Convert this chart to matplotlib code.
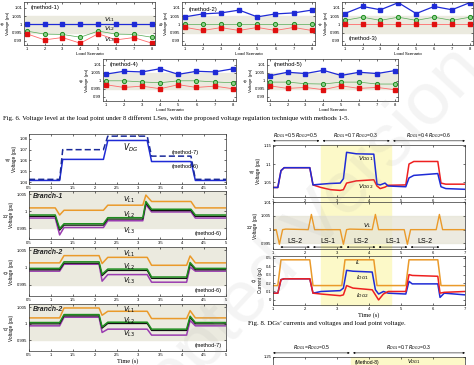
import matplotlib
matplotlib.use("Agg")
import matplotlib.pyplot as plt
from matplotlib.patches import Rectangle

plt.rcParams["font.family"] = ["Liberation Sans", "DejaVu Sans"]
plt.rcParams["mathtext.fontset"] = "dejavusans"

W, H = 474, 365

# ---------------------------------------------------------------------
# Fig. 6 : voltage at load point for 8 load scenarios (methods 1-5)
# ---------------------------------------------------------------------
scenarios = [1, 2, 3, 4, 5, 6, 7, 8]

m1_vl1 = [1.0, 1.0, 1.0, 1.0, 1.0, 1.0, 1.0, 1.0]
m1_vl2 = [0.9959, 0.9941, 0.9939, 0.9922, 0.9959, 0.9941, 0.9939, 0.9922]
m1_vl3 = [0.9943, 0.9906, 0.9920, 0.9886, 0.9943, 0.9906, 0.9920, 0.9886]

m2_vl1 = [1.0045, 1.0063, 1.0069, 1.0086, 1.0045, 1.0063, 1.0069, 1.0086]
m2_vl2 = [1.0, 1.0, 1.0, 1.0, 1.0, 1.0, 1.0, 1.0]
m2_vl3 = [0.9982, 0.9963, 0.9980, 0.9963, 0.9981, 0.9963, 0.9981, 0.9963]

m3_vl1 = [1.0065, 1.0108, 1.0088, 1.0131, 1.0065, 1.0108, 1.0088, 1.0131]
m3_vl2 = [1.0024, 1.0043, 1.0024, 1.0043, 1.0024, 1.0043, 1.0024, 1.0043]
m3_vl3 = [1.0, 1.0, 1.0, 1.0, 1.0, 1.0, 1.0, 1.0]

m4_vl1 = [1.0041, 1.0059, 1.0055, 1.0075, 1.0040, 1.0059, 1.0055, 1.0074]
m4_vl2 = [1.0, 1.0, 0.9993, 0.9988, 1.0, 1.0, 0.9993, 0.9988]
m4_vl3 = [0.9976, 0.9959, 0.9967, 0.9951, 0.9976, 0.9959, 0.9967, 0.9951]

m5_vl1 = [1.0031, 1.0053, 1.0045, 1.0065, 1.0033, 1.0053, 1.0045, 1.0063]
m5_vl2 = [0.9992, 0.9992, 0.9982, 0.9980, 0.9992, 0.9992, 0.9980, 0.9980]
m5_vl3 = [0.9969, 0.9953, 0.9959, 0.9945, 0.9969, 0.9953, 0.9959, 0.9945]

f6_yticks = [0.99, 0.995, 1.0, 1.005, 1.01]
f6_ylabels = ["0.99", "0.995", "1", "1.005", "1.01"]

# ---------------------------------------------------------------------
# Fig. 7 : DG voltage and branch voltages (methods 6, 7)
# ---------------------------------------------------------------------
t_dg7 = [0.5, 1.2, 1.27, 2.2, 2.3, 3.2, 3.3, 4.2, 4.3, 5.0]
vdg_m6 = [1.0415, 1.0415, 1.061, 1.061, 1.0785, 1.0785, 1.059, 1.059, 1.0415, 1.0415]
vdg_m7 = [1.0425, 1.0425, 1.070, 1.070, 1.0825, 1.0825, 1.064, 1.064, 1.0425, 1.0425]

t_br1 = [0.5, 1.1, 1.2, 1.3, 2.2, 2.3, 3.1, 3.17, 3.3, 4.2, 4.3, 5.0]
b1_vl1 = [1.0010, 1.0010, 0.9989, 1.0003, 1.0003, 1.0018, 1.0018, 1.0048, 1.0029, 1.0029, 1.0010, 1.0010]
b1_vl2 = [0.9989, 0.9989, 0.9949, 0.9963, 0.9963, 0.9981, 0.9981, 1.0029, 1.0006, 1.0006, 0.9989, 0.9989]
b1_vl2b = [0.9985, 0.9985, 0.9944, 0.9959, 0.9959, 0.9977, 0.9977, 1.0024, 1.0002, 1.0002, 0.9985, 0.9985]
b1_vl3 = [0.9980, 0.9980, 0.9930, 0.9952, 0.9952, 0.9972, 0.9972, 1.0020, 0.9998, 0.9998, 0.9980, 0.9980]

t_br2 = [0.5, 1.2, 1.3, 2.1, 2.17, 2.3, 3.2, 3.3, 4.1, 4.18, 4.3, 5.0]
c_vl1 = [1.0014, 1.0014, 1.0035, 1.0035, 1.0012, 1.0030, 1.0030, 1.0007, 1.0007, 1.0034, 1.0014, 1.0014]
c_vl2 = [0.9998, 0.9998, 1.0017, 1.0017, 0.9981, 0.9996, 0.9996, 0.9973, 0.9973, 1.0015, 0.9998, 0.9998]
c_vl2b = [0.9994, 0.9994, 1.0013, 1.0013, 0.9977, 0.9992, 0.9992, 0.9969, 0.9969, 1.0011, 0.9994, 0.9994]
c_vl3 = [0.9990, 0.9990, 1.0010, 1.0010, 0.9961, 0.9980, 0.9980, 0.9958, 0.9958, 1.0002, 0.9990, 0.9990]

d_vl1 = [1.0018, 1.0018, 1.0048, 1.0048, 1.0026, 1.0038, 1.0038, 1.0016, 1.0016, 1.0040, 1.0018, 1.0018]
d_vl2 = [1.0004, 1.0004, 1.0028, 1.0028, 0.9991, 1.0005, 1.0005, 0.9984, 0.9984, 1.0023, 1.0004, 1.0004]
d_vl2b = [1.0000, 1.0000, 1.0024, 1.0024, 0.9987, 1.0001, 1.0001, 0.9980, 0.9980, 1.0019, 1.0000, 1.0000]
d_vl3 = [0.9994, 0.9994, 1.0020, 1.0020, 0.9974, 0.9984, 0.9984, 0.9966, 0.9966, 1.0010, 0.9994, 0.9994]

f7_xticks = [0.5, 1, 1.5, 2, 2.5, 3, 3.5, 4, 4.5, 5]
f7_xlabels = ["0.5", "1", "1.5", "2", "2.5", "3", "3.5", "4", "4.5", "5"]

# ---------------------------------------------------------------------
# Fig. 8 : DG currents / voltages and load point voltage
# ---------------------------------------------------------------------
t_dg8 = [1.0, 1.15, 1.25, 1.35, 2.15, 2.25, 2.5, 2.8, 3.1, 3.2, 3.3, 3.6, 4.15,
         4.25, 4.35, 4.5, 4.6, 5.15, 5.25, 5.4, 6.15, 6.25, 6.4, 7.0]
vdg2 = [1.036, 1.036, 1.082, 1.090, 1.090, 1.043, 1.036, 1.030, 1.028, 1.030, 1.048, 1.054, 1.057,
        1.040, 1.033, 1.037, 1.042, 1.043, 1.100, 1.107, 1.107, 1.048, 1.045, 1.045]
vdg1 = [1.036, 1.036, 1.082, 1.090, 1.090, 1.043, 1.045, 1.047, 1.048, 1.060, 1.132, 1.128, 1.127,
        1.045, 1.043, 1.048, 1.040, 1.038, 1.062, 1.069, 1.074, 1.038, 1.033, 1.031]

t_vl = [1.0, 1.1, 1.2, 1.3, 1.4, 2.1, 2.2, 2.3, 2.4, 3.1, 3.2, 3.3, 3.4,
        4.1, 4.2, 4.3, 4.4, 5.1, 5.2, 5.3, 5.4, 6.1, 6.2, 6.3, 6.4, 7.0]
v_l = [1.0, 1.0, 0.9947, 1.0, 1.0002, 1.0, 1.0055, 1.0, 1.0, 1.0, 0.9947, 1.0, 1.0002,
       1.0, 1.0055, 1.0, 1.0, 1.0, 0.9947, 1.0, 1.0, 1.0, 1.0055, 1.0, 1.0, 1.0]

t_il = [1.0, 1.15, 1.25, 2.15, 2.25, 3.15, 3.25, 4.15, 4.25, 5.15, 5.25, 6.15, 6.25, 7.0]
i_l = [0.17, 0.17, 0.475, 0.475, 0.17, 0.17, 0.475, 0.475, 0.17, 0.17, 0.475, 0.475, 0.17, 0.17]

t_idg = [1.0, 1.15, 1.25, 1.35, 2.15, 2.25, 2.5, 3.1, 3.2, 3.3, 3.5, 4.1, 4.2, 4.3,
         4.45, 4.6, 5.15, 5.25, 5.35, 6.15, 6.22, 6.35, 7.0]
i_dg1 = [0.08, 0.08, 0.24, 0.25, 0.25, 0.08, 0.10, 0.11, 0.14, 0.35, 0.34, 0.33, 0.12, 0.07,
         0.10, 0.08, 0.07, 0.22, 0.19, 0.19, 0.03, 0.08, 0.06]
i_dg2 = [0.08, 0.08, 0.24, 0.25, 0.25, 0.08, 0.07, 0.05, 0.06, 0.17, 0.14, 0.12, 0.06, 0.0,
         0.07, 0.10, 0.10, 0.30, 0.29, 0.28, 0.08, 0.09, 0.10]

ls_names = ["LS-2", "LS-1", "LS-2", "LS-1", "LS-2"]
ls_start = [1.23, 2.25, 3.3, 4.3, 5.3]
ls_end = [2.15, 3.18, 4.2, 5.2, 6.2]

f8_xticks = [1, 2, 3, 4, 5, 6, 7]

# colours
BLUE = "#1f2bd6"
RED = "#ee2020"
GREEN = "#1e8c1e"
ORANGE = "#ea9a2a"
PURPLE = "#9a3cb0"
BAND = "#ebeadf"
YELLOW = "#fcf9c8"

fig = plt.figure(figsize=(W / 100, H / 100), dpi=100)


def px_axes(x0, y0, x1, y1):
    return fig.add_axes([x0 / W, 1 - y1 / H, (x1 - x0) / W, (y1 - y0) / H])


def style(ax, fs=3.0):
    ax.tick_params(direction="in", length=1.5, width=0.4, labelsize=fs, pad=1.2,
                   top=True, right=True)
    for s in ax.spines.values():
        s.set_linewidth(0.5)
        s.set_color("#333333")


# ---------------- Fig 6 --------------------------------------------------
f6 = [
    ("a)", (24, 2, 155, 45), m1_vl1, m1_vl2, m1_vl3, "(method-1)", (0.05, 0.93)),
    ("b)", (182, 2, 315, 45), m2_vl1, m2_vl2, m2_vl3, "(method-2)", (0.05, 0.88)),
    ("c)", (342, 2, 473, 45), m3_vl1, m3_vl2, m3_vl3, "(method-3)", (0.05, 0.22)),
    ("d)", (103, 59, 236, 101), m4_vl1, m4_vl2, m4_vl3, "(method-4)", (0.05, 0.93)),
    ("e)", (267, 59, 398, 101), m5_vl1, m5_vl2, m5_vl3, "(method-5)", (0.05, 0.93)),
]
for lett, box, v1, v2, v3, meth, mpos in f6:
    ax = px_axes(*box)
    ax.axhspan(0.995, 1.005, color=BAND, zorder=0)
    ax.plot(scenarios, v2, "-", color="#55aa55", lw=0.5, marker="o", ms=3.0,
            mfc="#8fd18f", mec=GREEN, mew=0.7)
    ax.plot(scenarios, v3, "-", color="#ff6a6a", lw=0.6, marker="s", ms=2.3,
            mfc="#e01010", mec="#e01010")
    ax.plot(scenarios, v1, "-", color=BLUE, lw=0.9, marker="s", ms=2.3,
            mfc=BLUE, mec=BLUE)
    ax.set_xlim(0.85, 8.18)
    ax.set_ylim(0.9875, 1.0135)
    ax.set_xticks(scenarios)
    ax.set_yticks(f6_yticks)
    ax.set_yticklabels(f6_ylabels)
    ax.set_xlabel("Load Scenario", fontsize=3.2, labelpad=1)
    ax.set_ylabel(lett + "\nVoltage (pu)", fontsize=3.2, labelpad=1.5)
    ax.text(mpos[0], mpos[1], meth, transform=ax.transAxes, fontsize=4.2,
            va="top", ha="left")
    style(ax)
    if lett == "a)":
        ax.text(5.3, 1.0029, r"$V_{L1}$", fontsize=4.6, va="center")
        ax.text(5.3, 0.9976, r"$V_{L2}$", fontsize=4.6, va="center")
        ax.text(5.3, 0.9906, r"$V_{L3}$", fontsize=4.6, va="center")

fig.text(3 / W, 1 - 118 / H,
         "Fig. 6. Voltage level at the load point under 8 different LSes, with the "
         "proposed voltage regulation technique with methods 1-5.",
         family="Liberation Serif", fontsize=4.9, va="center", ha="left")

# ---------------- Fig 7 --------------------------------------------------
ax = px_axes(29, 134, 226, 184)
ax.plot(t_dg7, vdg_m6, "-", color=BLUE, lw=1.1)
ax.plot(t_dg7, vdg_m7, "--", color="#1a2a9a", lw=1.1, dashes=(4, 2))
ax.set_xlim(0.5, 5)
ax.set_ylim(1.0382, 1.0845)
ax.set_yticks([1.04, 1.05, 1.06, 1.07, 1.08])
ax.set_yticklabels(["1.04", "1.05", "1.06", "1.07", "1.08"])
ax.set_xticks(f7_xticks)
ax.set_xticklabels(f7_xlabels)
ax.set_ylabel("a)\nVoltage (pu)", fontsize=3.4, labelpad=2)
ax.text(2.65, 1.0715, r"$V_{DG}$", fontsize=5.5, va="center")
ax.text(3.75, 1.0675, "(method-7)", fontsize=4, va="center")
ax.text(3.75, 1.0545, "(method-6)", fontsize=4, va="center")
style(ax)

f7 = [
    ("b)", (29, 191, 226, 239), t_br1, b1_vl1, b1_vl2, b1_vl2b, b1_vl3, "Branch-1", "(method-6)",
     [(2.65, 1.0033), (2.65, 0.9990), (2.65, 0.9942)]),
    ("c)", (29, 247, 226, 296), t_br2, c_vl1, c_vl2, c_vl2b, c_vl3, "Branch-2", "(method-6)",
     [(2.65, 1.0040), (2.65, 1.0001), (2.65, 0.9962)]),
    ("d)", (29, 304, 226, 351), t_br2, d_vl1, d_vl2, d_vl2b, d_vl3, "Branch-2", "(method-7)",
     [(2.65, 1.0042), (2.65, 1.0009), (2.65, 0.9970)]),
]
for lett, box, tt, v1, v2, v2b, v3, br, meth, lpos in f7:
    ax = px_axes(*box)
    ax.axhspan(0.995, 1.0065, color=BAND, zorder=0)
    ax.plot(tt, v3, "-", color=PURPLE, lw=1.1)
    ax.plot(tt, v2b, "-", color="#111111", lw=0.9)
    ax.plot(tt, v2, "-", color=GREEN, lw=1.1)
    ax.plot(tt, v1, "-", color=ORANGE, lw=1.1)
    ax.set_xlim(0.5, 5)
    ax.set_ylim(0.9918, 1.006)
    ax.set_yticks([0.995, 1.0, 1.005])
    ax.set_yticklabels(["0.995", "1", "1.005"])
    ax.set_xticks(f7_xticks)
    ax.set_xticklabels(f7_xlabels)
    ax.set_ylabel(lett + "\nVoltage (pu)", fontsize=3.4, labelpad=2)
    ax.text(0.02, 0.96, br, transform=ax.transAxes, fontsize=5, style="italic",
            weight="bold", va="top", color="#222222")
    ax.text(0.98, 0.12, meth, transform=ax.transAxes, fontsize=4, ha="right", va="center")
    for lab, (lx, ly) in zip([r"$V_{L1}$", r"$V_{L2}$", r"$V_{L3}$"], lpos):
        ax.text(lx, ly, lab, fontsize=5, va="center")
    style(ax)
ax.set_xlabel("Time (s)", fontsize=4.6, labelpad=1, family="Liberation Serif")

# ---------------- Fig 8 --------------------------------------------------
axa = px_axes(273, 145, 465, 197)
axb = px_axes(273, 202, 465, 249)
axc = px_axes(273, 256, 465, 305)

# yellow span also between panels
bb_top = axa.get_position()
bb_bot = axc.get_position()
x_a = bb_top.x0 + (2.5 - 1) / 6 * bb_top.width
x_b = bb_top.x0 + (4.7 - 1) / 6 * bb_top.width
fig.patches.append(Rectangle((x_a, bb_bot.y0), x_b - x_a, bb_top.y1 - bb_bot.y0,
                             transform=fig.transFigure, color=YELLOW, zorder=-5))

for ax in (axa, axb, axc):
    ax.axvspan(2.5, 4.7, color=YELLOW, zorder=0)
    ax.set_xlim(1, 7)
    ax.set_xticks(f8_xticks)
    style(ax)

axa.plot(t_dg8, vdg2, "-", color=RED, lw=1.1)
axa.plot(t_dg8, vdg1, "-", color=BLUE, lw=1.1)
axa.set_ylim(1.01, 1.152)
axa.set_yticks([1.05, 1.1, 1.15])
axa.set_yticklabels(["1.05", "1.1", "1.15"])
axa.set_ylabel("a)\nVoltage (pu)", fontsize=3.4, labelpad=2)
axa.text(3.65, 1.11, r"$V_{DG1}$", fontsize=4.5)
axa.text(3.65, 1.035, r"$V_{DG2}$", fontsize=4.5)

axb.axhspan(0.995, 1.005, color="#e6e4d6", alpha=0.75, zorder=0.5)
axb.plot(t_vl, v_l, "-", color=ORANGE, lw=1.0)
axb.set_ylim(0.993, 1.01)
axb.set_yticks([0.995, 1.0, 1.005, 1.01])
axb.set_yticklabels(["0.995", "1", "1.005", "1.01"])
axb.set_ylabel("b)\nVoltage (pu)", fontsize=3.4, labelpad=2)
axb.text(3.8, 1.0008, r"$V_L$", fontsize=4.5)
for name, a, b in zip(ls_names, ls_start, ls_end):
    axb.text((a + b) / 2, 0.9958, name, fontsize=5, ha="center", va="center")
    axb.annotate("", xy=(b, 0.9937), xytext=(a, 0.9937),
                 arrowprops=dict(arrowstyle="<|-|>", lw=0.4, color="black",
                                 mutation_scale=2.5, shrinkA=0, shrinkB=0))

axc.plot(t_il, i_l, "-", color=ORANGE, lw=1.1)
axc.plot(t_idg, i_dg1, "-", color=BLUE, lw=1.1)
axc.plot(t_idg, i_dg2, "-", color=RED, lw=1.1)
axc.set_ylim(-0.06, 0.52)
axc.set_yticks([0, 0.1, 0.2, 0.3, 0.4, 0.5])
axc.set_yticklabels(["0", "0.1", "0.2", "0.3", "0.4", "0.5"])
axc.set_ylabel("c)\nCurrent (pu)", fontsize=3.4, labelpad=2)
axc.set_xlabel("Time (s)", fontsize=4.6, labelpad=1, family="Liberation Serif")
axc.text(3.55, 0.42, r"$I_L$", fontsize=4.5)
axc.text(3.6, 0.25, r"$I_{DG1}$", fontsize=4.5)
axc.text(3.6, 0.03, r"$I_{DG2}$", fontsize=4.5)

# R_DG headers with arrows above panel a
hdr = [(r"$R_{DG1}$=0.5 $R_{DG2}$=0.5", 1.0, 2.45),
       (r"$R_{DG1}$=0.7 $R_{DG2}$=0.3", 2.55, 4.65),
       (r"$R_{DG1}$=0.4 $R_{DG2}$=0.6", 4.75, 7.0)]
for txt, a, b in hdr:
    axa.annotate("", xy=(b, 1.08), xytext=(a, 1.08), xycoords=("data", "axes fraction"),
                 textcoords=("data", "axes fraction"),
                 arrowprops=dict(arrowstyle="<|-|>", lw=0.4, color="black",
                                 mutation_scale=2.5, shrinkA=0, shrinkB=0),
                 annotation_clip=False)
    axa.text((a + b) / 2, 1.19, txt, transform=axa.get_xaxis_transform(), fontsize=3.6,
             ha="center", va="center", clip_on=False)

fig.text(248 / W, 1 - 323 / H, "Fig. 8. DGs\u2019 currents and voltages and load point voltage.",
         family="Liberation Serif", fontsize=4.9, va="center", ha="left")

# partially visible next figure
axn = px_axes(273, 357, 465, 420)
axn.axvspan(3.45, 7, color=YELLOW, zorder=0)
axn.set_xlim(1, 7)
axn.set_ylim(0.95, 1.25)
axn.set_yticks([1.25])
axn.set_yticklabels(["1.25"])
axn.set_xticks(f8_xticks)
axn.set_xticklabels([])
style(axn)
axn.text(3.55, 1.225, "(Method-8)", fontsize=3.6, va="center")
axn.text(5.2, 1.226, r"$V_{DG1}$", fontsize=4, va="center")
hdr2 = [(r"$R_{DG1}$=$R_{DG2}$=0.5", 1.0, 3.4),
        (r"$R_{DG1}$=0.7 $R_{DG2}$=0.3", 3.5, 7.0)]
for txt, a, b in hdr2:
    axn.annotate("", xy=(b, 1.065), xytext=(a, 1.065), xycoords=("data", "axes fraction"),
                 textcoords=("data", "axes fraction"),
                 arrowprops=dict(arrowstyle="<|-|>", lw=0.4, color="black",
                                 mutation_scale=2.5, shrinkA=0, shrinkB=0),
                 annotation_clip=False)
    axn.text((a + b) / 2, 1.15, txt, transform=axn.get_xaxis_transform(), fontsize=3.6,
             ha="center", va="center", clip_on=False)

# watermark
fig.text(472 / W, 1 - 58 / H, "Accepted Version", rotation=47, rotation_mode="anchor",
         ha="right", va="center", fontsize=54, color="#a0a0a0", alpha=0.11,
         family="Liberation Sans", zorder=20)

fig.savefig("out.png", dpi=100)
